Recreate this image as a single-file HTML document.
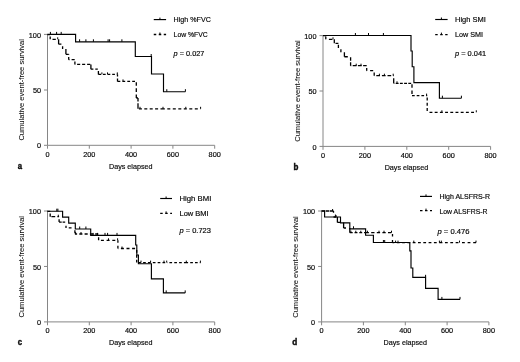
<!DOCTYPE html>
<html lang="en">
<head>
<meta charset="utf-8">
<title>Kaplan-Meier curves</title>
<style>
html,body{margin:0;padding:0;background:#fff;}
body{width:520px;height:362px;overflow:hidden;}
svg{display:block;}
text{font-family:"Liberation Sans", sans-serif;font-size:7.3px;fill:#0a0a0a;stroke:#0a0a0a;stroke-width:0.18px;}
.ax{stroke:#868686;stroke-width:1;fill:none;}
.hi{stroke:#000;stroke-width:1.15;fill:none;stroke-linejoin:miter;}
.lo{stroke:#000;stroke-width:1.3;fill:none;}
.ld{stroke:#000;stroke-width:1.3;fill:none;stroke-dasharray:2.5 2.5;}
.tk{stroke:#000;stroke-width:1;fill:none;}
.b{font-weight:bold;font-size:8.5px;stroke-width:0.4px;}
.t{font-size:7.6px;}
</style>
</head>
<body>
<svg width="520" height="362" viewBox="0 0 520 362">
<rect width="520" height="362" fill="#fff"/>

<g>
<path class="ax" d="M47.5,33.9V145.3H214.7M47.5,34.4h-3.5M47.5,90.0h-3.5M47.5,145.3h-3.5M47.5,145.3v3.4M89.3,145.3v3.4M131.1,145.3v3.4M172.9,145.3v3.4M214.7,145.3v3.4"/>
<text x="41.0" y="38.10" text-anchor="end">100</text>
<text x="41.0" y="93.25" text-anchor="end">50</text>
<text x="41.0" y="148.40" text-anchor="end">0</text>
<text x="47.5" y="157.0" text-anchor="middle">0</text>
<text x="89.3" y="157.0" text-anchor="middle">200</text>
<text x="131.1" y="157.0" text-anchor="middle">400</text>
<text x="172.9" y="157.0" text-anchor="middle">600</text>
<text x="214.7" y="157.0" text-anchor="middle">800</text>
<text x="109.0" y="168.8" class="t" textLength="43.5" lengthAdjust="spacingAndGlyphs">Days elapsed</text>
<text transform="translate(23.6,39.0) rotate(-90)" class="t" style="stroke-width:0.05px" text-anchor="end" textLength="101.6" lengthAdjust="spacingAndGlyphs">Cumulative event-free survival</text>
<text class="b" x="17.7" y="168.9" textLength="4.3" lengthAdjust="spacingAndGlyphs">a</text>
<path class="lo" d="M47.50,34.60L50.20,34.60M50.20,39.30L50.20,36.50M52.50,39.30L55.80,39.30M58.60,44.20L58.60,39.30M58.60,44.20L61.40,44.20M62.60,49.00L62.60,46.20M65.90,54.30L65.90,49.00M65.90,54.30L68.70,54.30M68.70,59.70L68.70,56.90M68.70,54.80L68.70,54.30M68.70,59.70L69.60,59.70M71.60,59.70L74.70,59.70M74.90,64.40L74.90,61.60M74.90,64.40L75.20,64.40M77.10,64.40L80.20,64.40M82.10,64.40L85.20,64.40M87.10,64.40L90.20,64.40M90.90,69.20L90.90,64.40M90.90,69.20L93.40,69.20M95.30,69.20L97.80,69.20M98.40,74.40L98.40,70.90M98.40,74.40L101.10,74.40M103.00,74.40L105.70,74.40M107.60,74.40L110.30,74.40M112.20,74.40L114.90,74.40M116.80,74.40L117.50,74.40M117.50,81.40L117.50,78.60M117.50,76.50L117.50,74.40M117.50,81.40L120.30,81.40M122.40,81.40L125.20,81.40M127.30,81.40L130.10,81.40M132.20,81.40L135.00,81.40M136.30,98.00L136.30,94.40M136.30,91.90L136.30,88.30M136.30,85.80L136.30,82.20M136.30,98.00L138.00,98.00M138.00,108.80L138.00,103.20M138.00,101.40L138.00,98.00M138.90,108.80L141.90,108.80M144.30,108.80L147.30,108.80M149.70,108.80L152.70,108.80M155.10,108.80L158.10,108.80M160.50,108.80L162.00,108.80M162.00,108.80L164.80,108.80M167.30,108.80L170.30,108.80M172.80,108.80L175.80,108.80M178.30,108.80L181.30,108.80M183.80,108.80L186.80,108.80M189.30,108.80L192.30,108.80M194.80,108.80L197.80,108.80M200.30,108.80L200.60,108.80"/>
<path class="tk" d="M57.7,39.3v-2.0M101.9,74.4v-2.0M107.5,74.4v-2.0M117.3,74.4v-2.0M123,81.4v-2.0M140,108.8v-2.0M163,108.8v-2.0M185.8,108.8v-2.0M200.6,108.8v-2.0"/>
<path class="hi" d="M47.5,34.4 H75.6 V41.8 H135.3 V56.5 H151.5 V74 H163.5 V91.7 H185.4"/>
<path class="tk" d="M50.4,34.4v-2.5M56.6,34.4v-2.5M61.2,34.4v-2.5M79.6,41.8v-2.5M85.9,41.8v-2.5M93.4,41.8v-2.5M108.1,41.8v-2.5M109.6,41.8v-2.5M121.9,41.8v-2.5M151.2,56.5v-2.5M166.8,91.7v-2.5M185.4,91.7v-2.5"/>
<path class="hi" d="M153.75,19.6H166.1"/>
<path class="tk" d="M159.925,19.6v-2"/>
<path class="ld" d="M153.75,34.5H166.1"/>
<path class="tk" d="M159.925,34.5v-2"/>
<text x="173.6" y="21.7" textLength="37.2" lengthAdjust="spacingAndGlyphs">High %FVC</text>
<text x="173.6" y="37.2" textLength="34.2" lengthAdjust="spacingAndGlyphs">Low %FVC</text>
<text x="173.6" y="55.7" textLength="30.8" lengthAdjust="spacingAndGlyphs"><tspan font-style="italic">p</tspan> = 0.027</text>
</g>
<g>
<path class="ax" d="M323.0,35.1V146.4H490.6M323.0,35.6h-3.5M323.0,91.0h-3.5M323.0,146.4h-3.5M323,146.4v3.4M364.9,146.4v3.4M406.8,146.4v3.4M448.7,146.4v3.4M490.6,146.4v3.4"/>
<text x="316.5" y="38.70" text-anchor="end">100</text>
<text x="316.5" y="94.10" text-anchor="end">50</text>
<text x="316.5" y="149.50" text-anchor="end">0</text>
<text x="323" y="157.9" text-anchor="middle">0</text>
<text x="364.9" y="157.9" text-anchor="middle">200</text>
<text x="406.8" y="157.9" text-anchor="middle">400</text>
<text x="448.7" y="157.9" text-anchor="middle">600</text>
<text x="490.6" y="157.9" text-anchor="middle">800</text>
<text x="384.65" y="169.6" class="t" textLength="43.5" lengthAdjust="spacingAndGlyphs">Days elapsed</text>
<text transform="translate(299.9,40.2) rotate(-90)" class="t" style="stroke-width:0.05px" text-anchor="end" textLength="101.6" lengthAdjust="spacingAndGlyphs">Cumulative event-free survival</text>
<text class="b" x="293.5" y="169.5" textLength="4.9" lengthAdjust="spacingAndGlyphs">b</text>
<path class="lo" d="M323.00,35.60L325.80,35.60M325.80,39.30L325.80,36.50M325.80,39.30L325.90,39.30M328.90,39.30L332.40,39.30M334.30,43.30L334.30,39.30M335.50,43.30L338.40,43.30M338.40,47.90L338.40,44.80M340.90,52.30L340.90,49.30M344.40,56.75L344.40,52.30M344.40,56.75L347.80,56.75M350.60,65.70L350.60,62.30M350.60,60.70L350.60,57.30M350.60,65.70L351.30,65.70M352.70,65.70L356.50,65.70M357.90,65.70L361.70,65.70M363.10,65.70L366.70,65.70M366.70,70.70L366.70,67.90M366.70,70.70L367.10,70.70M370.10,70.70L373.20,70.70M374.20,75.70L374.20,72.60M374.20,75.70L374.40,75.70M376.30,75.70L380.00,75.70M381.90,75.70L385.60,75.70M387.50,75.70L391.20,75.70M393.10,75.70L393.70,75.70M393.70,83.30L393.70,78.30M393.70,83.30L394.40,83.30M395.70,83.30L398.60,83.30M399.90,83.30L402.80,83.30M404.10,83.30L407.00,83.30M408.30,83.30L411.20,83.30M412.00,94.00L412.00,90.40M412.00,87.80L412.00,84.20M412.00,95.60L414.70,95.60M416.70,95.60L419.40,95.60M421.40,95.60L424.10,95.60M426.10,95.60L427.20,95.60M427.20,111.00L427.20,107.90M427.20,105.80L427.20,102.70M427.20,100.60L427.20,97.50M427.20,112.30L427.20,112.30M429.50,112.30L432.40,112.30M434.70,112.30L437.60,112.30M439.90,112.30L442.80,112.30M445.10,112.30L448.00,112.30M450.30,112.30L453.20,112.30M455.50,112.30L458.40,112.30M460.70,112.30L463.60,112.30M465.90,112.30L468.80,112.30M471.10,112.30L474.00,112.30M476.30,112.30L476.30,112.30"/>
<path class="tk" d="M333,39.3v-2.0M356.2,65.7v-2.0M361,65.7v-2.0M379.4,75.7v-2.0M384.4,75.7v-2.0M393.2,75.7v-2.0M397,83.3v-2.0M426.6,95.6v-2.0M441.9,112.3v-2.0M476.3,112.3v-2.0"/>
<path class="hi" d="M323,35.5 H411 V51 H412.2 V66.7 H413.9 V82.6 H439.4 V98.2 H461.4"/>
<path class="tk" d="M355.4,35.5v-2.5M368.5,35.5v-2.5M383.4,35.5v-2.5M442.4,98.2v-2.5M461.4,98.2v-2.5"/>
<path class="hi" d="M435.2,19.5H447.6"/>
<path class="tk" d="M441.4,19.5v-2"/>
<path class="ld" d="M435.2,34.6H447.6"/>
<path class="tk" d="M441.4,34.6v-2"/>
<text x="455" y="22.1" textLength="30.8" lengthAdjust="spacingAndGlyphs">High SMI</text>
<text x="455" y="37.0" textLength="28" lengthAdjust="spacingAndGlyphs">Low SMI</text>
<text x="455" y="55.7" textLength="31.2" lengthAdjust="spacingAndGlyphs"><tspan font-style="italic">p</tspan> = 0.041</text>
</g>
<g>
<path class="ax" d="M47.5,210.5V321.9H214.7M47.5,211.0h-3.5M47.5,266.45h-3.5M47.5,321.9h-3.5M47.5,321.9v3.4M89.3,321.9v3.4M131.1,321.9v3.4M172.9,321.9v3.4M214.7,321.9v3.4"/>
<text x="41.0" y="214.10" text-anchor="end">100</text>
<text x="41.0" y="269.55" text-anchor="end">50</text>
<text x="41.0" y="325.00" text-anchor="end">0</text>
<text x="47.5" y="333.4" text-anchor="middle">0</text>
<text x="89.3" y="333.4" text-anchor="middle">200</text>
<text x="131.1" y="333.4" text-anchor="middle">400</text>
<text x="172.9" y="333.4" text-anchor="middle">600</text>
<text x="214.7" y="333.4" text-anchor="middle">800</text>
<text x="109.0" y="345" class="t" textLength="43.5" lengthAdjust="spacingAndGlyphs">Days elapsed</text>
<text transform="translate(23.6,215.95) rotate(-90)" class="t" style="stroke-width:0.05px" text-anchor="end" textLength="101.6" lengthAdjust="spacingAndGlyphs">Cumulative event-free survival</text>
<text class="b" x="17.7" y="345.0" textLength="4.3" lengthAdjust="spacingAndGlyphs">c</text>
<path class="lo" d="M47.50,211.30L50.20,211.30M50.20,216.70L50.20,213.60M51.40,216.70L55.20,216.70M57.40,216.70L59.10,216.70M59.10,222.10L59.10,219.30M59.10,222.10L61.70,222.10M62.60,222.10L65.20,222.10M66.00,227.90L66.00,225.70M68.75,227.90L71.55,227.90M74.90,233.30L74.90,230.20M74.90,234.00L77.10,234.00M79.30,234.00L82.40,234.00M84.60,234.00L87.70,234.00M89.90,234.00L93.00,234.00M95.20,234.00L98.30,234.00M98.60,240.30L98.60,237.30M100.90,240.30L103.90,240.30M106.60,240.30L109.60,240.30M112.30,240.30L115.30,240.30M117.90,248.50L117.90,245.80M117.90,242.70L117.90,240.30M117.90,248.50L118.30,248.50M120.90,248.50L123.90,248.50M126.50,248.50L129.50,248.50M132.10,248.50L135.10,248.50M136.70,262.60L136.70,259.80M136.70,257.70L136.70,254.90M136.70,252.80L136.70,250.00M138.25,262.60L140.95,262.60M143.10,262.60L145.80,262.60M147.95,262.60L150.65,262.60M152.80,262.60L155.50,262.60M157.65,262.60L160.35,262.60M162.50,262.60L165.20,262.60M167.00,262.60L167.25,262.60M169.40,262.60L172.10,262.60M174.25,262.60L176.95,262.60M179.10,262.60L181.80,262.60M183.95,262.60L186.00,262.60M186.00,262.60L188.10,262.60M190.20,262.60L192.90,262.60M195.00,262.60L197.70,262.60M199.80,262.60L200.60,262.60"/>
<path class="tk" d="M58.3,216.7v-2.0M75.6,234v-2.0M81,234v-2.0M108.5,240.3v-2.0M117.6,240.3v-2.0M122,248.5v-2.0M141,262.6v-2.0M150.6,262.6v-2.0M164,262.6v-2.0M166.7,262.6v-2.0M186.3,262.6v-2.0M200.4,262.6v-2.0"/>
<path class="hi" d="M47.5,211.2 H62.6 V217.1 H68.7 V223.1 H75.3 V229 H90.7 V235.4 H135.7 V245 H136.8 V255 H138.4 V263.7 H151.4 V278.8 H163.4 V292.9 H185.2"/>
<path class="tk" d="M56.8,211.2v-2.5M57.9,211.2v-2.5M79.7,229v-2.5M85.9,229v-2.5M93.2,235.4v-2.5M97.5,235.4v-2.5M105,235.4v-2.5M107.6,235.4v-2.5M117,235.4v-2.5M166.2,292.9v-2.5M185.2,292.9v-2.5"/>
<path class="hi" d="M160.2,198.5H172"/>
<path class="tk" d="M166.1,198.5v-2"/>
<path class="ld" d="M160.2,213.4H172"/>
<path class="tk" d="M166.1,213.4v-2"/>
<text x="179.5" y="201" textLength="31.8" lengthAdjust="spacingAndGlyphs">High BMI</text>
<text x="179.5" y="215.6" textLength="29.2" lengthAdjust="spacingAndGlyphs">Low BMI</text>
<text x="179.5" y="233.1" textLength="31.4" lengthAdjust="spacingAndGlyphs"><tspan font-style="italic">p</tspan> = 0.723</text>
</g>
<g>
<path class="ax" d="M321.6,210.5V321.9H488.9M321.6,211.0h-3.5M321.6,266.45h-3.5M321.6,321.9h-3.5M321.6,321.9v3.4M363.4,321.9v3.4M405.3,321.9v3.4M447.1,321.9v3.4M488.9,321.9v3.4"/>
<text x="315.1" y="214.10" text-anchor="end">100</text>
<text x="315.1" y="269.55" text-anchor="end">50</text>
<text x="315.1" y="325.00" text-anchor="end">0</text>
<text x="321.6" y="333.4" text-anchor="middle">0</text>
<text x="363.4" y="333.4" text-anchor="middle">200</text>
<text x="405.3" y="333.4" text-anchor="middle">400</text>
<text x="447.1" y="333.4" text-anchor="middle">600</text>
<text x="488.9" y="333.4" text-anchor="middle">800</text>
<text x="383.55" y="345" class="t" textLength="43.5" lengthAdjust="spacingAndGlyphs">Days elapsed</text>
<text transform="translate(298.2,216.2) rotate(-90)" class="t" style="stroke-width:0.05px" text-anchor="end" textLength="101.6" lengthAdjust="spacingAndGlyphs">Cumulative event-free survival</text>
<text class="b" x="292.2" y="345.0" textLength="5.0" lengthAdjust="spacingAndGlyphs">d</text>
<path class="lo" d="M321.60,211.00L325.10,211.00M325.70,211.00L329.40,211.00M330.00,211.00L333.50,211.00M333.50,212.80L333.50,211.00M333.50,217.00L336.30,217.00M337.40,222.40L337.40,217.00M337.40,222.40L340.50,222.40M343.60,228.00L343.60,222.40M343.60,228.00L346.00,228.00M349.80,232.70L349.80,228.00M349.80,232.70L352.70,232.70M354.55,232.70L357.45,232.70M359.30,232.70L362.20,232.70M364.05,232.70L365.60,232.70M365.60,232.70L368.90,232.70M371.20,232.70L374.50,232.70M376.80,232.70L380.10,232.70M382.40,232.70L385.70,232.70M388.00,232.70L391.30,232.70M392.50,242.60L392.50,240.10M392.50,236.60L392.50,234.10M392.50,242.60L394.30,242.60M396.80,242.60L399.60,242.60M402.10,242.60L404.90,242.60M407.40,242.60L410.20,242.60M412.70,242.60L415.50,242.60M418.00,242.60L420.80,242.60M423.30,242.60L426.10,242.60M428.60,242.60L431.40,242.60M433.90,242.60L436.70,242.60M439.20,242.60L439.60,242.60M439.60,242.60L442.40,242.60M444.95,242.60L447.75,242.60M450.30,242.60L453.10,242.60M455.65,242.60L458.45,242.60M462.00,242.60L464.80,242.60M467.60,242.60L470.40,242.60M473.20,242.60L476.00,242.60"/>
<path class="tk" d="M332.6,211v-2.0M336,217v-2.0M350.9,232.7v-2.0M355.8,232.7v-2.0M360.8,232.7v-2.0M367.4,232.7v-2.0M379,232.7v-2.0M384,232.7v-2.0M391.5,232.7v-2.0M395.6,242.6v-2.0M398,242.6v-2.0M413.8,242.6v-2.0M439.4,242.6v-2.0M441.3,242.6v-2.0M459.5,242.6v-2.0M476,242.6v-2.0"/>
<path class="hi" d="M321.6,211 H324.6 V217 H340.5 V222.9 H349.8 V228.8 H365.6 V235.2 H373.4 V242.5 H409.8 V250.8 H411 V268 H412.8 V277.3 H425.6 V288.4 H438.1 V299.4 H460"/>
<path class="tk" d="M335.4,217v-2.5M353.5,228.8v-2.5M383.4,242.5v-2.5M384.7,242.5v-2.5M425.6,277.3v-2.5M441.9,299.4v-2.5M460,299.4v-2.5"/>
<path class="hi" d="M420,196.4H432"/>
<path class="tk" d="M426.0,196.4v-2"/>
<path class="ld" d="M420,210.6H432"/>
<path class="tk" d="M426.0,210.6v-2"/>
<text x="439.5" y="199" textLength="50.5" lengthAdjust="spacingAndGlyphs">High ALSFRS-R</text>
<text x="439.5" y="213.6" textLength="48" lengthAdjust="spacingAndGlyphs">Low ALSFRS-R</text>
<text x="437.5" y="233.6" textLength="32" lengthAdjust="spacingAndGlyphs"><tspan font-style="italic">p</tspan> = 0.476</text>
</g>
</svg>
</body>
</html>
